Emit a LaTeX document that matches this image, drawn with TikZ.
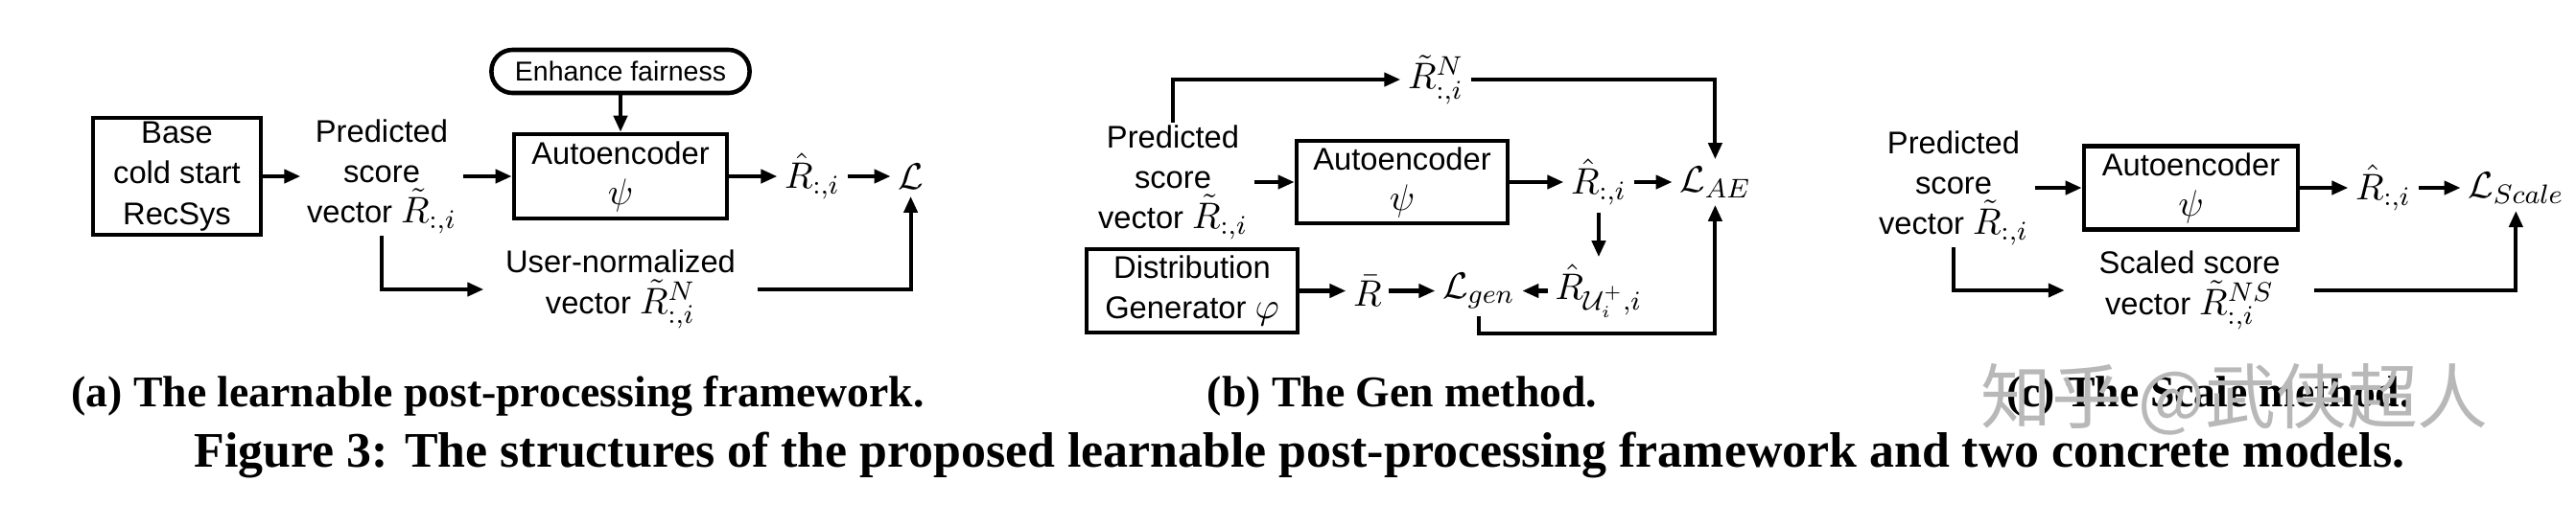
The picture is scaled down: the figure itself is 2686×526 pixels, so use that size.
\documentclass[tikz,border=0pt]{standalone}
\usepackage{fontspec}
\setmainfont{Liberation Serif}
\setsansfont{Liberation Sans}
\newfontfamily\cjk{Noto Sans CJK SC}
\usetikzlibrary{arrows.meta, positioning, calc}
\newcommand{\dfont}{\sffamily\fontsize{9.3pt}{12pt}\selectfont}
\newcommand{\mfont}{\fontsize{10.8pt}{12pt}\selectfont}
\newcommand{\mx}[1]{{\mfont$#1$}}
\newcommand{\capfont}{\bfseries\fontsize{13pt}{15pt}\selectfont}
\tikzset{
  blk/.style={
    rectangle, draw, line width=1.3pt,
    align=center, font=\dfont, inner sep=0pt
  },
  txt/.style={align=center, font=\dfont, inner xsep=0.06cm, inner ysep=0.02cm},
  sym/.style={font=\mfont, inner sep=0.07cm},
  arr/.style={-{Triangle[length=0.17cm, width=0.14cm]}, line width=1.15pt},
  subcap/.style={font=\capfont},
}

\begin{document}
\begin{tikzpicture}[x=0.01cm, y=-0.01cm]
    \useasboundingbox (0,0) rectangle (2686,526);
    % (a) framework
    \node[blk, minimum width=1.75cm, minimum height=1.22cm] (base) at (184.5,184) {Base\\cold start\\RecSys};
    \node[txt] (preda) at (398,184) {Predicted\\score\\vector \mx{\tilde{R}_{:,i}}};
    \node[blk, minimum width=2.22cm, minimum height=0.88cm] (aea) at (647,184) {Autoencoder\\\mx{\psi}};
    \node[blk, rounded corners=0.22cm, minimum width=2.69cm, minimum height=0.45cm,
      font=\sffamily\fontsize{8.1pt}{10pt}\selectfont] (fair) at (647,74.5) {Enhance fairness};
    \node[sym, right=0.5cm of aea] (rhata) {$\hat{R}_{:,i}$};
    \node[sym, right=0.45cm of rhata] (la) {$\mathcal{L}$};
    \node[txt, inner xsep=0.22cm] (norma) at (647,302) {User-normalized\\vector \mx{\tilde{R}^{N}_{:,i}}};

    \draw[arr] (base) -- (preda);
    \draw[arr] (preda) -- (aea);
    \draw[arr] (fair) -- (aea);
    \draw[arr] (aea) -- (rhata);
    \draw[arr] (rhata) -- (la);
    \draw[arr] (preda.south) |- (norma.west);
    \draw[arr] (norma.east) -| (la.south);

    % (b) Gen
    \node[txt] (predb) at (1223,190) {Predicted\\score\\vector \mx{\tilde{R}_{:,i}}};
    \node[blk, minimum width=2.2cm, minimum height=0.86cm] (aeb) at (1462,190) {Autoencoder\\\mx{\psi}};
    \node[sym, right=0.56cm of aeb] (rhatb) {$\hat{R}_{:,i}$};
    \node[sym, right=0.4cm of rhatb] (lae) {$\mathcal{L}_{AE}$};
    \node[sym] (rnb) at (1497,83) {$\tilde{R}^{N}_{:,i}$};
    \node[blk, minimum width=2.2cm, minimum height=0.87cm] (distb) at (1243,303.5) {Distribution\\Generator \mx{\varphi}};
    \node[sym, right=0.48cm of distb] (rbar) {$\bar{R}$};
    \node[sym, right=0.48cm of rbar] (lgen) {$\mathcal{L}_{gen}$};
    \node[sym] (rhatu) at (rhatb |- lgen) {$\hat{R}_{\mathcal{U}_i^+,i}$};

    \draw[arr] (predb.north) |- (rnb.west);
    \draw[arr] (rnb.east) -| (lae.north);
    \draw[arr] (predb) -- (aeb);
    \draw[arr] (aeb) -- (rhatb);
    \draw[arr] (rhatb) -- (lae);
    \draw[arr] (rhatb) -- (rhatu);
    \draw[arr] (distb) -- (rbar);
    \draw[arr] (rbar) -- (lgen);
    \draw[arr] (rhatu) -- (lgen);
    \draw[arr] (lgen.south) -- ++(0,18) -| (lae.south);

    % (c) Scale
    \node[txt] (predc) at (2037,196) {Predicted\\score\\vector \mx{\tilde{R}_{:,i}}};
    \node[blk, minimum width=2.23cm, minimum height=0.87cm] (aec) at (2284.5,196) {Autoencoder\\\mx{\psi}};
    \node[sym, right=0.5cm of aec] (rhatc) {$\hat{R}_{:,i}$};
    \node[sym, right=0.44cm of rhatc] (lsc) {$\mathcal{L}_{Scale}$};
    \node[txt, inner xsep=0.35cm] (scaled) at (2283,303) {Scaled score\\vector \mx{\tilde{R}^{NS}_{:,i}}};

    \draw[arr] (predc) -- (aec);
    \draw[arr] (aec) -- (rhatc);
    \draw[arr] (rhatc) -- (lsc);
    \draw[arr] (predc.south) |- (scaled.west);
    \draw[arr] (scaled.east) -| (lsc.south);

    % captions
    \node[subcap] (capa) at (519,413) {(a) The learnable post-processing framework.};
    \node[subcap] (capb) at (1462,413) {(b) The Gen method.};
    \node[subcap] (capc) at (2303,413) {(c) The Scale method.};
    \node[font=\bfseries\fontsize{14.75pt}{17pt}\selectfont] (capfig) at (1355,475)
      {Figure 3: The structures of the proposed learnable post-processing framework and two concrete models.};
    \node[font=\cjk\fontsize{21pt}{24pt}\selectfont, text=black!28] (mark) at (2330,417) {知乎 @武侠超人};
\end{tikzpicture}
\end{document}
